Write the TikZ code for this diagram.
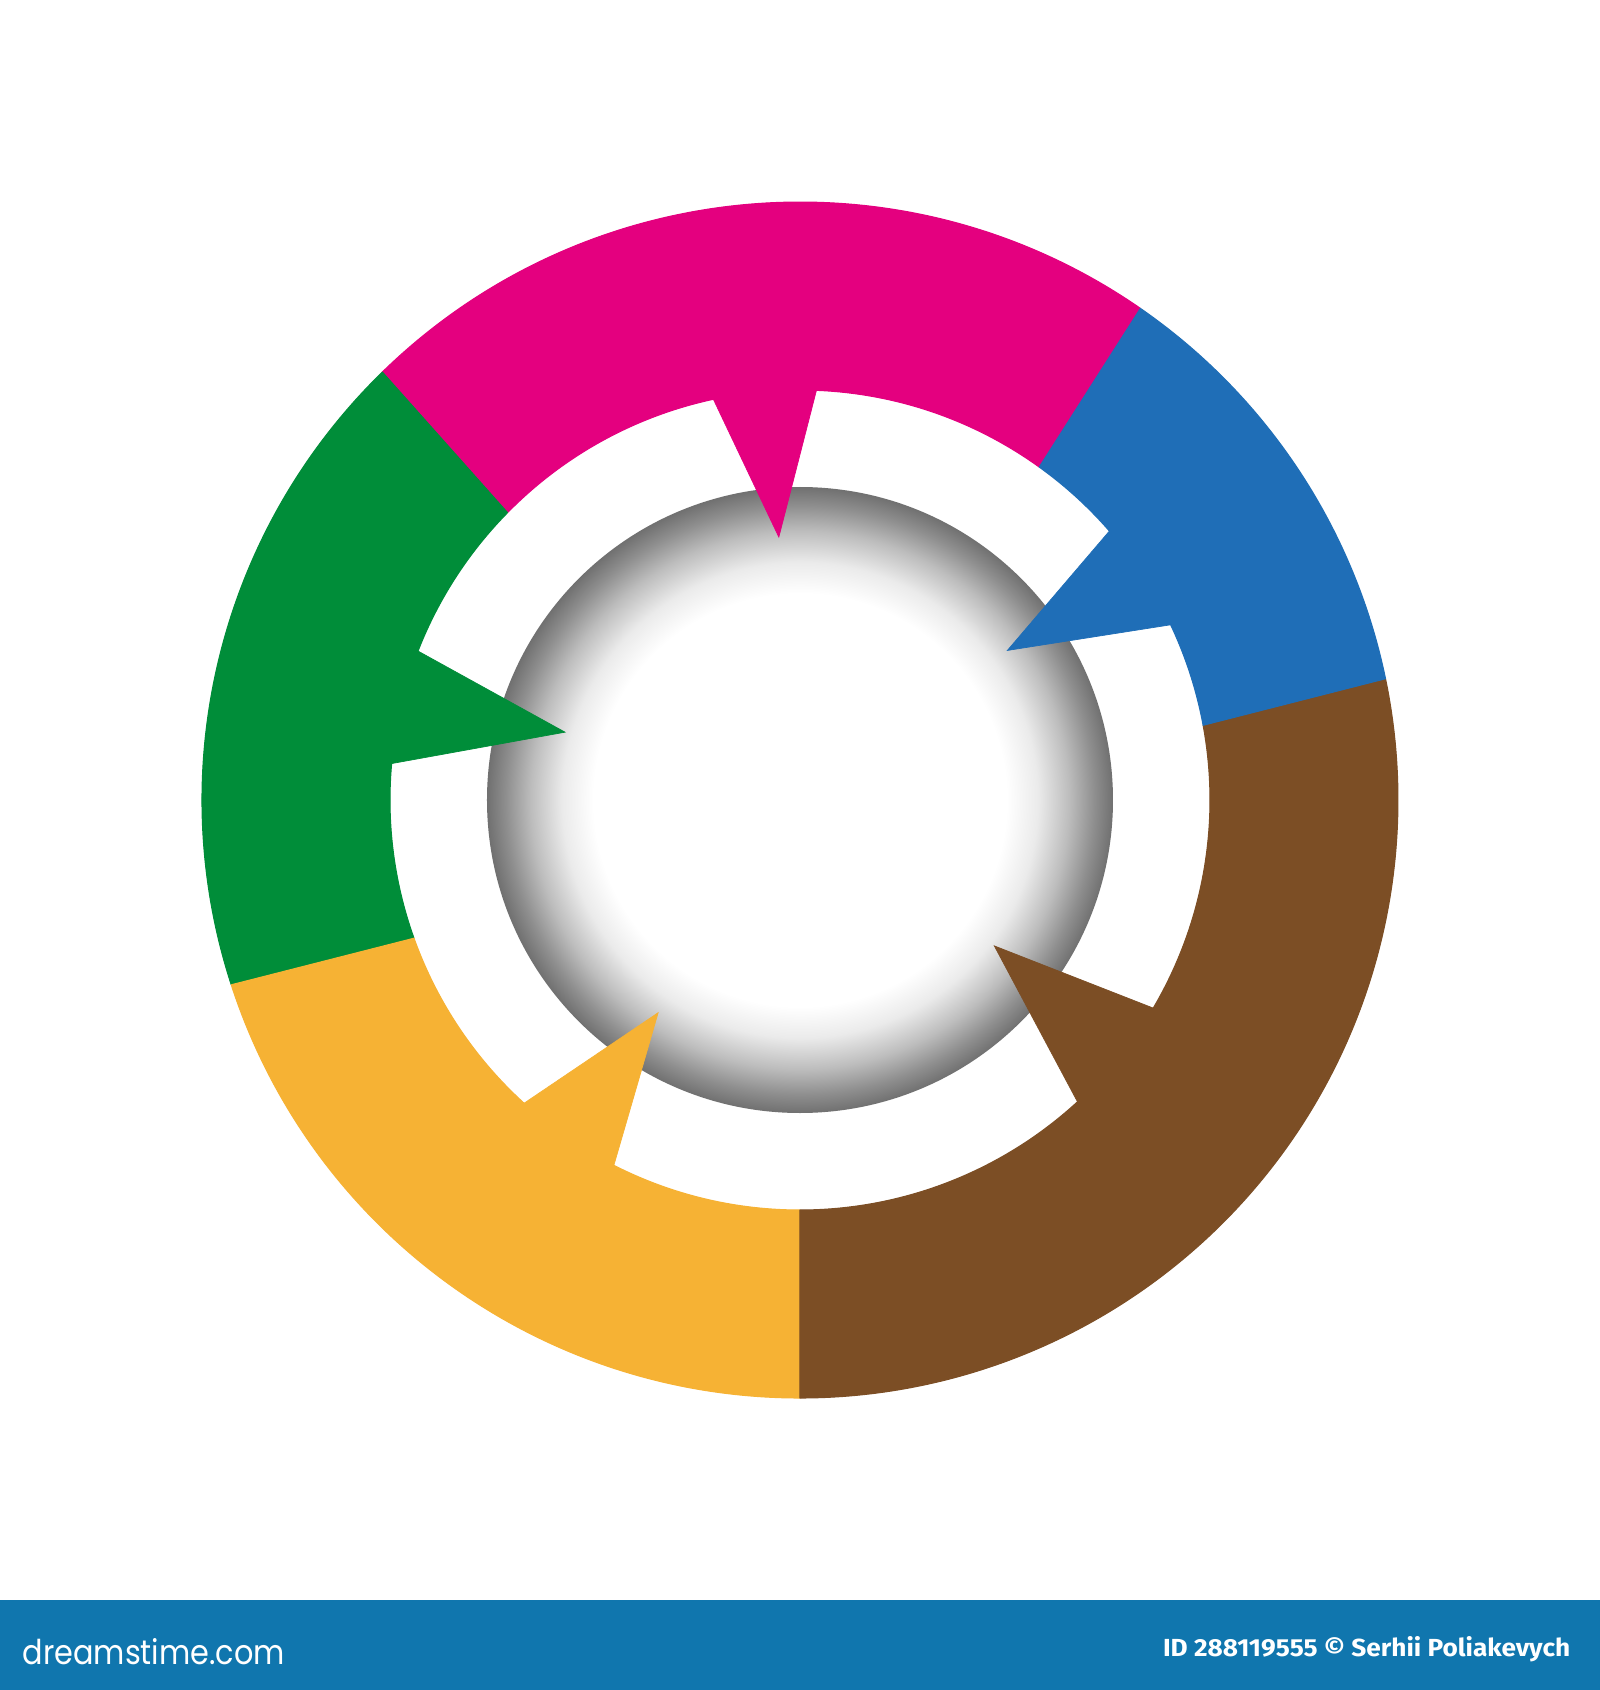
\documentclass[tikz,border=0pt]{standalone}
\usepackage{fontspec}
\newfontfamily\logofont{Poppins}
\newfontfamily\idfont{Fira Sans}
\definecolor{cpink}{HTML}{E4007F}
\definecolor{cblue}{HTML}{1F6EB7}
\definecolor{cbrown}{HTML}{7C4E25}
\definecolor{corange}{HTML}{F6B234}
\definecolor{cgreen}{HTML}{008D39}
\definecolor{cbar}{HTML}{1076AE}
\pgfdeclareradialshading{innershadow}{\pgfpointorigin}{color(0bp)=(white); color(16.5bp)=(white); color(19bp)=(black!8); color(21.5bp)=(black!26); color(23.5bp)=(black!44); color(25bp)=(black!56); color(50bp)=(black!56)}
\begin{document}
\begin{tikzpicture}[x=0.01cm,y=0.01cm,
  seg/.style={fill=#1, draw=#1, line width=0.3pt, line join=round},
  arrowhead/.style={fill=#1, draw=#1, line width=0.2pt, line join=miter},
  bartext/.style={inner sep=0pt, text=white}]
\useasboundingbox (-800,-890) rectangle (800,800);
\fill[white] (-800,-890) rectangle (800,800);
% ring sectors
\path[seg=cpink] (54.3:410) -- (55.3:598) arc[start angle=55.3, end angle=134.3, radius=598] -- (135.5:410) arc[start angle=135.5, end angle=54.3, radius=410] -- cycle;
\path[seg=cgreen] (135.5:410) -- (134.3:598) arc[start angle=134.3, end angle=198.0, radius=598] -- (199.7:410) arc[start angle=199.7, end angle=135.5, radius=410] -- cycle;
\path[seg=corange] (199.7:410) -- (198.0:598) arc[start angle=198.0, end angle=270, radius=598] -- (270:410) arc[start angle=270, end angle=199.7, radius=410] -- cycle;
\path[seg=cbrown] (-90:410) -- (-90:598) arc[start angle=-90, end angle=11.7, radius=598] -- (10.5:410) arc[start angle=10.5, end angle=-90, radius=410] -- cycle;
\path[seg=cblue] (10.5:410) -- (11.7:598) arc[start angle=11.7, end angle=55.3, radius=598] -- (54.3:410) arc[start angle=54.3, end angle=10.5, radius=410] -- cycle;
% shaded inner disk
\shade[shading=innershadow] (0,0) circle[radius=313];
% arrow heads
\path[arrowhead=cpink] (94.6:263.8) -- (102.2:410) -- (102.2:450) -- (87.7:450) -- (87.7:410) -- cycle;
\path[arrowhead=cblue] (35.8:255.7) -- (41.0:410) -- (41.0:450) -- (25.3:450) -- (25.3:410) -- cycle;
\path[arrowhead=cbrown] (-36.9:243) -- (-30.5:410) -- (-30.5:450) -- (-47.4:450) -- (-47.4:410) -- cycle;
\path[arrowhead=corange] (236.3:255.7) -- (227.7:410) -- (227.7:450) -- (243.0:450) -- (243.0:410) -- cycle;
\path[arrowhead=cgreen] (163.9:244.6) -- (158.7:410) -- (158.7:450) -- (174.9:450) -- (174.9:410) -- cycle;
% bottom bar
\fill[cbar] (-800,-800) rectangle (800,-890);
\node[bartext, anchor=base west] (logo) at (-778,-864) {\resizebox{2.62cm}{0.26cm}{\logofont dreamstime.com}};
\node[bartext, anchor=base east] (credit) at (771,-856) {\resizebox{4.07cm}{0.2cm}{\idfont\bfseries ID 288119555 © Serhii Poliakevych}};
\end{tikzpicture}
\end{document}
